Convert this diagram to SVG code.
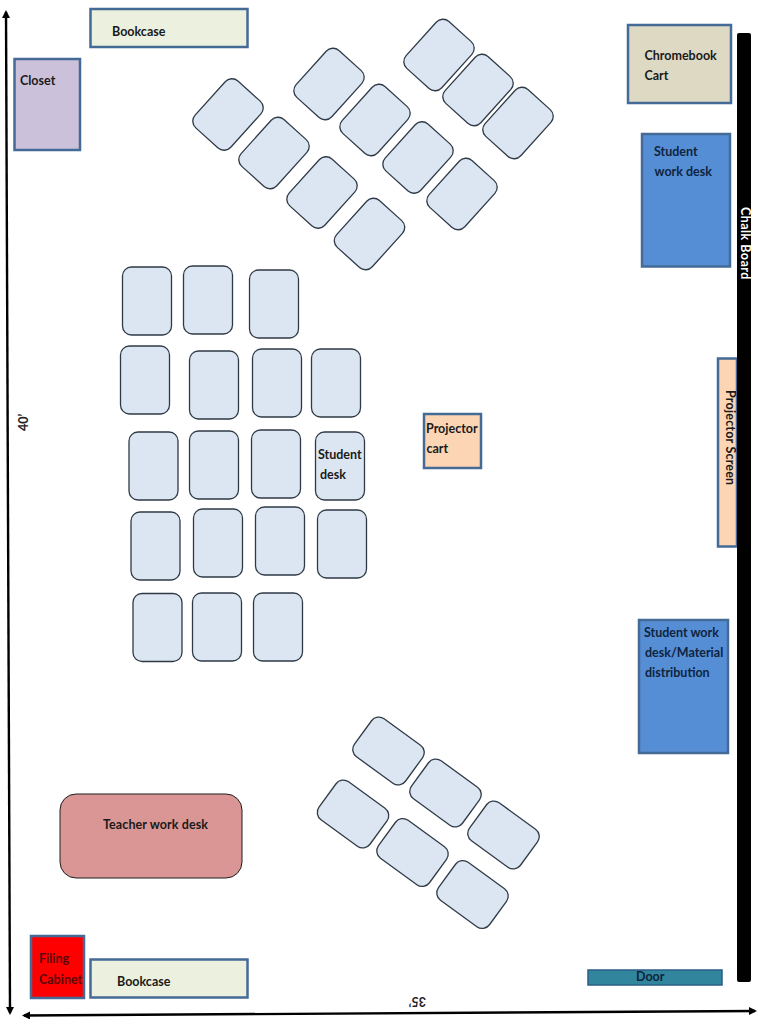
<svg xmlns="http://www.w3.org/2000/svg" width="768" height="1024" viewBox="0 0 768 1024">
<style>
text{font-family:"Lato","Noto Sans","Liberation Sans",sans-serif;font-weight:700;font-size:12.5px;fill:#1a1a1a}
.box{stroke:#446a96;stroke-width:2.5}
.desk{fill:#dce6f2;stroke:#2e3a46;stroke-width:1.3}
.axis{fill:none;stroke:#000;stroke-width:2.4}
.dk{fill:#0f2440}
.lbl{font-weight:700;fill:#222}
</style>
<defs>
<marker id="ah" markerWidth="10" markerHeight="10" refX="6" refY="4" orient="auto-start-reverse" markerUnits="userSpaceOnUse"><path d="M0 0L8 4L0 8Z" fill="#000"/></marker>
<rect id="d" class="desk" x="-24.500" y="-34" width="49" height="68" rx="9"/>
<rect id="t" class="desk" x="-31.500" y="-24" width="63" height="48" rx="9" transform="rotate(-48)"/>
<rect id="b" class="desk" x="-31.500" y="-23.500" width="63" height="47" rx="9" transform="rotate(36)"/>
</defs>
<rect width="768" height="1024" fill="#fff"/>
<g id="connectors">
<path class="axis" d="M6 12L10 1013" marker-start="url(#ah)" marker-end="url(#ah)"/>
<path class="axis" d="M24 1015.500L755 1011" marker-start="url(#ah)" marker-end="url(#ah)"/>
</g>
<g id="label-40"><text class="lbl" transform="translate(28 431) rotate(-90)">40’</text></g>
<g id="label-35"><text class="lbl" transform="translate(426 997) rotate(180)">35’</text></g>
<g id="bookcase-top"><rect class="box" x="90.500" y="9" width="157" height="38" fill="#ebf1de"/><text x="112" y="36">Bookcase</text></g>
<g id="closet"><rect class="box" x="14.500" y="59" width="65.500" height="91" fill="#ccc1da"/><text x="20" y="85">Closet</text></g>
<g id="chromebook-cart"><rect class="box" x="628" y="25" width="103" height="78" fill="#ddd9c3"/><text x="644.500" y="60">Chromebook</text><text x="644.500" y="80">Cart</text></g>
<g id="student-work-desk"><rect class="box" x="642" y="134" width="88" height="132.500" fill="#558ed5"/><text class="dk" x="654" y="156">Student</text><text class="dk" x="654.500" y="176">work desk</text></g>
<g id="chalk-board"><rect x="737" y="33" width="14" height="949" rx="2" fill="#000"/><text transform="translate(741 207) rotate(90)" style="fill:#fff;letter-spacing:.45px">Chalk Board</text></g>
<g id="projector-screen"><rect class="box" x="718" y="358.500" width="19" height="188" fill="#fcd5b5"/><rect x="737" y="355" width="14" height="195" fill="#000"/><text transform="translate(726 390) rotate(90)" style="letter-spacing:.2px">Projector Screen</text></g>
<g id="projector-cart"><rect class="box" x="424" y="414" width="57" height="54" fill="#fcd5b5"/><text x="426" y="433">Projector</text><text x="426.500" y="453">cart</text></g>
<g id="material-desk"><rect class="box" x="639" y="620" width="89" height="133" fill="#558ed5"/><text class="dk" x="644" y="637">Student work</text><text class="dk" x="645" y="657">desk/Material</text><text class="dk" x="645" y="677">distribution</text></g>
<g id="teacher-work-desk"><rect x="60" y="794" width="182" height="84" rx="16" fill="#d99694" stroke="#1f1f1f" stroke-width="1"/><text x="103" y="829" style="letter-spacing:.1px">Teacher work desk</text></g>
<g id="filing-cabinet"><rect class="box" x="31" y="936" width="53" height="62" fill="#ff0000"/><text x="39" y="963" style="fill:#5a0808">Filing</text><text x="39" y="984" style="fill:#5a0808">Cabinet</text></g>
<g id="bookcase-bottom"><rect class="box" x="90.500" y="959.500" width="157" height="38" fill="#ebf1de"/><text x="117" y="986">Bookcase</text></g>
<g id="door"><rect x="588" y="970" width="134" height="15" fill="#31859c" stroke="#2a5f86" stroke-width="1.500"/><text class="dk" x="636" y="981">Door</text></g>
<g id="desks-grid">
<use href="#d" x="147" y="301"/><use href="#d" x="208" y="300"/><use href="#d" x="274" y="304"/>
<use href="#d" x="145" y="380"/><use href="#d" x="214" y="385"/><use href="#d" x="277" y="383"/><use href="#d" x="336" y="383"/>
<use href="#d" x="153.500" y="466"/><use href="#d" x="214" y="465"/><use href="#d" x="276" y="464"/>
<g id="student-desk"><use href="#d" x="340" y="466"/><text x="318" y="459">Student</text><text x="320" y="479">desk</text></g>
<use href="#d" x="155.500" y="546"/><use href="#d" x="218" y="543"/><use href="#d" x="280" y="541"/><use href="#d" x="342" y="544"/>
<use href="#d" x="157.500" y="627.500"/><use href="#d" x="217" y="627"/><use href="#d" x="278" y="627"/>
</g>
<g id="desks-top">
<use href="#t" x="228" y="114.500"/><use href="#t" x="274" y="153"/><use href="#t" x="322" y="192.500"/><use href="#t" x="369.500" y="234"/>
<use href="#t" x="329" y="84"/><use href="#t" x="375" y="120"/><use href="#t" x="418" y="157.500"/><use href="#t" x="462" y="194"/>
<use href="#t" x="439" y="55"/><use href="#t" x="478" y="90"/><use href="#t" x="518" y="123"/>
</g>
<g id="desks-bottom">
<use href="#b" x="388.500" y="751"/><use href="#b" x="445.500" y="793"/><use href="#b" x="503.500" y="835"/>
<use href="#b" x="353" y="814"/><use href="#b" x="412.500" y="852.500"/><use href="#b" x="472.500" y="894.500"/>
</g>
</svg>
